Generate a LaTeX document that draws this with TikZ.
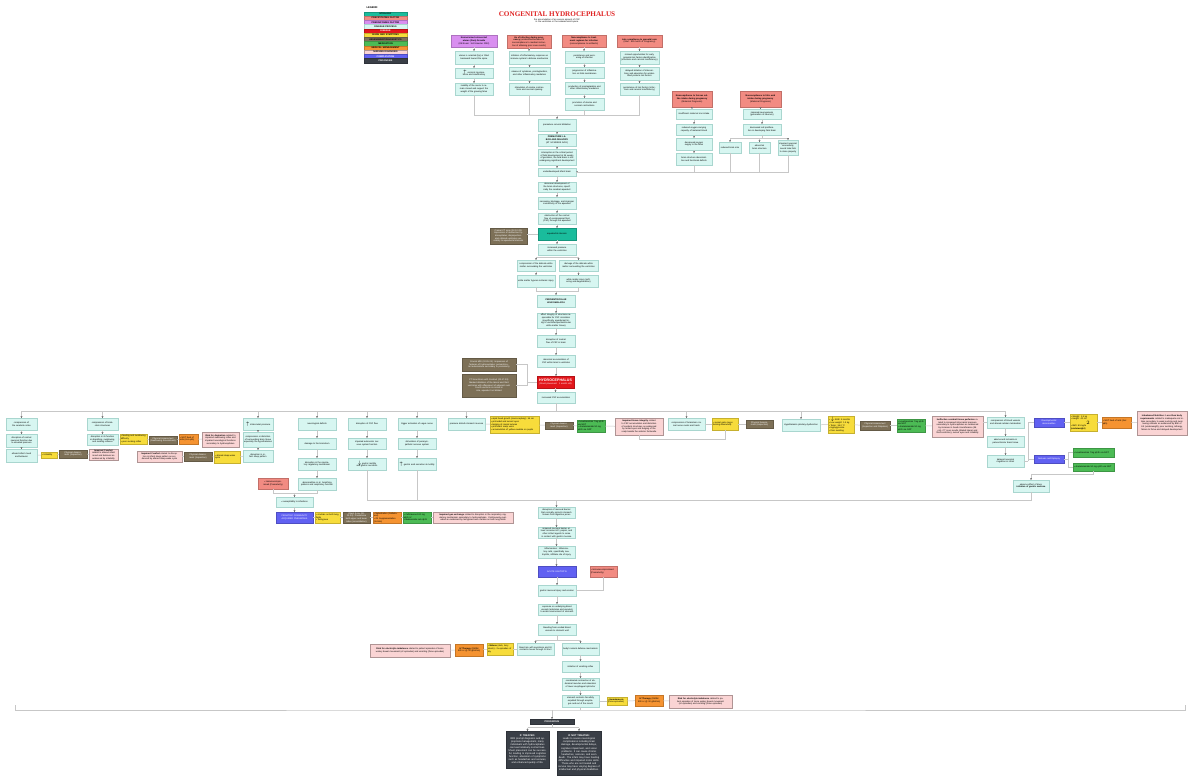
\documentclass[tikz,border=0pt]{standalone}
\usepackage{fontspec}
\setmainfont{Liberation Sans}
\newfontfamily\titlefont{Liberation Serif}
\usetikzlibrary{arrows.meta}
\definecolor{cEtio}{HTML}{1ABC9C}
\definecolor{cPrec}{HTML}{F28B82}
\definecolor{cPred}{HTML}{D98FF0}
\definecolor{cProc}{HTML}{D7F6F1}
\definecolor{cProcD}{HTML}{A9D6CF}
\definecolor{cDis}{HTML}{E3161B}
\definecolor{cSign}{HTML}{F7DC3B}
\definecolor{cAsmt}{HTML}{7D7057}
\definecolor{cMed}{HTML}{4CBB55}
\definecolor{cMgmt}{HTML}{F59331}
\definecolor{cNurs}{HTML}{FAD4D4}
\definecolor{cComp}{HTML}{6161F2}
\definecolor{cProg}{HTML}{3A3F47}
\definecolor{cTitle}{HTML}{E02424}
\newcommand\mkbox[7]{%
  \pgfmathsetmacro\bxw{#4-#2}%
  \pgfmathsetmacro\bxh{#5-#3}%
  \pgfmathsetmacro\bxx{(#2+#4)/2}%
  \pgfmathsetmacro\bxy{(#3+#5)/2}%
  \pgfmathsetmacro\bxt{max(#4-#2-2,4)}%
  \node[#6, minimum width=\bxw pt, minimum height=\bxh pt, text width=\bxt pt] (#1) at (\bxx,\bxy) {#7};}
\begin{document}
\begin{tikzpicture}[x=1pt,y=-1pt,
  bb/.style={line width=0.35pt, inner xsep=0.8pt, inner ysep=0.3pt, align=center, font=\fontsize{2.2}{2.65}\selectfont},
  sProc/.style={bb, fill=cProc, draw=cProcD},
  sEtio/.style={bb, fill=cEtio, draw=cEtio!80!black},
  sPrec/.style={bb, fill=cPrec, draw=cPrec!80!black},
  sPred/.style={bb, fill=cPred, draw=cPred!80!black},
  sDis/.style={bb, fill=cDis, draw=cDis!80!black, text=white},
  sSign/.style={bb, fill=cSign, draw=cSign!80!black, align=left},
  sAsmt/.style={bb, fill=cAsmt, draw=cAsmt!80!black, text=white},
  sMed/.style={bb, fill=cMed, draw=cMed!80!black, align=left},
  sMgmt/.style={bb, fill=cMgmt, draw=cMgmt!80!black, align=left},
  sNurs/.style={bb, fill=cNurs, draw=cNurs!70!black},
  sComp/.style={bb, fill=cComp, draw=cComp!80!black, text=white},
  sProg/.style={bb, fill=cProg, draw=cProg!80!black, text=white},
  lgf/.style={font=\fontsize{2.3}{2.6}\selectfont\bfseries, inner ysep=0pt},
  conn/.style={draw=black!22, line width=0.5pt},
  arr/.style={conn, -{Stealth[length=1.6pt,width=1.8pt,color=black!70]}}]
\fill[white] (0,0) rectangle (1200,782);
\useasboundingbox (0,0) rectangle (1200,782);

% ---------- legend ----------
\node[font=\fontsize{2.6}{3}\selectfont\bfseries, anchor=west] (legt) at (363,8) {LEGEND:};
\mkbox{lg1}{364}{11.7}{407}{15.95}{sEtio,lgf}{ETIOLOGY}
\mkbox{lg2}{364}{15.95}{407}{20.2}{sPrec,lgf}{PRECIPITATING FACTOR}
\mkbox{lg3}{364}{20.2}{407}{24.45}{sPred,lgf}{PREDISPOSING FACTOR}
\mkbox{lg4}{364}{24.45}{407}{28.7}{sProc,lgf}{DISEASE PROCESS}
\mkbox{lg5}{364}{28.7}{407}{32.95}{sDis,lgf}{DISEASE}
\mkbox{lg6}{364}{32.95}{407}{37.2}{sSign,lgf,align=center}{SIGNS AND SYMPTOMS}
\mkbox{lg7}{364}{37.2}{407}{41.45}{sAsmt,lgf,text=black}{ASSESSMENT/DIAGNOSTICS}
\mkbox{lg8}{364}{41.45}{407}{45.7}{sMed,lgf,align=center}{MEDICATION}
\mkbox{lg9}{364}{45.7}{407}{49.95}{sMgmt,lgf,align=center}{MEDICAL MANAGEMENT}
\mkbox{lg10}{364}{49.95}{407}{54.2}{sNurs,lgf}{NURSING DIAGNOSIS}
\mkbox{lg11}{364}{54.2}{407}{58.45}{sComp,lgf}{COMPLICATION}
\mkbox{lg12}{364}{58.45}{407}{62.7}{sProg,lgf}{PROGNOSIS}

% ---------- title ----------
\node[font=\titlefont\bfseries\fontsize{7.2}{8}\selectfont, text=cTitle] (title) at (557,14.5) {CONGENITAL HYDROCEPHALUS};
\node[font=\fontsize{2.2}{2.7}\selectfont, align=center, text width=62pt] (sub) at (557,21) {the accumulation of an excess amount of CSF in the ventricles or the subarachnoid space};

% ---------- top factors ----------
\mkbox{p1}{451}{35}{497}{47}{sPred}{\textbf{Normal-sized retroverted uterus (Fam) Gravida}\\(OB Exam: 3rd trimester 2022)}
\mkbox{s2}{507}{35}{551}{48}{sPrec}{\textbf{Hx of infection during pregnancy} (unidentified because of noncompliance to medical instruction of attaining prior case results)}
\mkbox{s3}{562}{35}{606}{47}{sPrec}{\textbf{Noncompliance to treatment regimen for infection}\\(noncompliance to antibiotic)}
\mkbox{s4}{617}{35}{662}{47}{sPrec}{\textbf{Late compliance to prenatal care} (Start: 3rd month of Pregnancy)}

\mkbox{a1}{455}{51}{493}{64}{sProc}{uterus is oriented (tip) or tilted backward toward the spine}
\mkbox{a2}{455}{68}{493}{78}{sProc}{$\uparrow$ cervical incompetence and insufficiency}
\mkbox{a3}{455}{83}{493}{95}{sProc}{inability of the cervix to remain closed and support the weight of the growing fetus}
\mkbox{b1}{509}{51}{550}{64}{sProc}{initiation of inflammatory response as immune system's defense mechanism}
\mkbox{b2}{509}{67}{550}{80}{sProc}{release of cytokines, prostaglandins, and other inflammatory mediators}
\mkbox{b3}{509}{83}{550}{95}{sProc}{stimulation of uterine contractions and cervical ripening}
\mkbox{c1}{565}{51}{604}{63}{sProc}{persistence and worsening of infection}
\mkbox{c2}{565}{67}{604}{78}{sProc}{progression of inflammation on fetal membranes}
\mkbox{c3}{565}{82}{604}{94}{sProc}{production of prostaglandins and other inflammatory mediators}
\mkbox{c4}{565}{98}{604}{110}{sProc}{promotion of uterine and cervical contractions}
\mkbox{d1}{620}{51}{659}{64}{sProc}{missed opportunities for early prenatal risk factors identification (infections and cervical insufficiency)}
\mkbox{d2}{620}{67}{659}{80}{sProc}{delayed initiation of interventions and education for unidentified preterm risk factors}
\mkbox{d3}{620}{83}{659}{95}{sProc}{persistence of risk factors (infections and cervical insufficiency)}

% ---------- right top cluster ----------
\mkbox{r1}{672}{91}{712}{107}{sPrec}{\textbf{Noncompliance to ferrous sulfate intake during pregnancy}\\(Maternal Prognosis)}
\mkbox{r2}{740}{91}{781}{107}{sPrec}{\textbf{Noncompliance to folic acid intake during pregnancy}\\(Maternal Prognosis)}
\mkbox{e1}{676}{109}{712}{119}{sProc}{insufficient maternal iron intake}
\mkbox{e2}{676}{124}{712}{135}{sProc}{reduced oxygen-carrying capacity of maternal blood}
\mkbox{e3}{676}{138}{712}{150}{sProc}{decreased oxygen supply to the fetus}
\mkbox{e4}{676}{153}{712}{165}{sProc}{brain structure abnormalities and functional deficits}
\mkbox{f1}{743}{109}{781}{119}{sProc}{impaired neurogenesis (generation of neurons)}
\mkbox{f2}{743}{124}{781}{135}{sProc}{decreased cell proliferation in developing fetal brain}
\mkbox{g1}{719}{142}{741}{153}{sProc}{reduced brain size}
\mkbox{g2}{749}{142}{770}{153}{sProc}{abnormal brain structure}
\mkbox{g3}{778}{140}{798}{155}{sProc}{impaired neuronal connectivity, neural tube fails to close properly}

% ---------- central column ----------
\mkbox{m1}{538}{119}{576}{131}{sProc}{premature cervical dilatation}
\mkbox{m2}{538}{134}{576}{146}{sProc}{\textbf{PREMATURE LABOR AND DELIVERY}\\(AT 34 WEEKS AOG)}
\mkbox{m3}{538}{149}{576}{165}{sProc}{interruption in the critical period of fetal development at 34 weeks of gestation, the fetal brain is still undergoing significant development}
\mkbox{m4}{538}{168}{576}{176}{sProc}{underdeveloped infant brain}
\mkbox{m5}{538}{182}{576}{192}{sProc}{abnormal development of the brain structures, specifically the cerebral aqueduct}
\mkbox{m6}{538}{197}{576}{209}{sProc}{narrowing, blockage, and improper connectivity of the aqueduct}
\mkbox{m7}{538}{213}{576}{224}{sProc}{obstruction of the normal flow of cerebrospinal fluid (CSF) through the aqueduct}
\mkbox{m8}{538}{228}{576}{240}{sEtio}{aqueductal stenosis}
\mkbox{ct1}{490}{228}{527}{244}{sAsmt}{Cranial CT scan (02-10-23): Impression of obstructive hydrocephalus; disproportionately dilated ventricles secondary to aqueductal stenosis}
\mkbox{m9}{538}{244}{576}{255}{sProc}{increased pressure within the ventricles}
\mkbox{m10l}{517}{260}{555}{271}{sProc}{compression of the delicate white matter surrounding the ventricles}
\mkbox{m10r}{559}{260}{598}{271}{sProc}{damage of the delicate white matter surrounding the ventricles}
\mkbox{m11l}{517}{275}{555}{287}{sProc}{white matter hypoxic-ischemic injury}
\mkbox{m11r}{559}{275}{598}{287}{sProc}{white matter injury (softening and degeneration)}
\mkbox{m12}{537}{295}{575}{307}{sProc}{\textbf{PERIVENTRICULAR LEUKOMALACIA}}
\mkbox{m13}{537}{313}{575}{328}{sProc}{affect integrity of structures responsible for CSF circulation (specifically, ependymal lining of ventricles/periventricular white matter tissue)}
\mkbox{m14}{537}{335}{575}{347}{sProc}{disruption of normal flow of CSF in brain}
\mkbox{m15}{537}{355}{575}{367}{sProc}{abnormal accumulation of CSF within brain's ventricles}
\mkbox{hc}{537}{376}{574}{388}{sDis}{{\fontsize{3.6}{4.2}\selectfont\bfseries HYDROCEPHALUS}\\(Shunt placement ~ 1 month old)}
\mkbox{ct2}{462}{358}{516}{371}{sAsmt}{Cranial MRI (02-05-23): Impression of features of hydrocephalus; periventricular leukomalacia secondary to prematurity}
\mkbox{ct3}{462}{374}{516}{397}{sAsmt}{CT Scan Brain with Contrast (02-17-23):\\ Marked dilatation of the lateral and third ventricles with effacement of adjacent sulci\\ Fourth ventricle is normal in size, aqueduct not dilated}
\mkbox{m16}{537}{392}{575}{403}{sProc}{increased CSF accumulation}

% ---------- wide row ----------
\mkbox{n1a}{6}{418}{37}{430}{sProc}{compression of the cerebral cortex}
\mkbox{n1b}{6}{434}{37}{447}{sProc}{disruption of normal neuronal function due to elevated pressure}
\mkbox{n1c}{6}{449}{37}{462}{sProc}{altered infant mood and behavior}
\mkbox{n1y}{41}{452}{57}{458}{sSign}{• Irritability}
\mkbox{n1s}{59}{450}{87}{458}{sAsmt}{Physical Assessment (Inspection)}
\mkbox{n1n}{89}{449}{118}{460}{sNurs}{\textbf{Impaired Comfort} related to altered infant mood and behavior as evidenced by irritability}
\mkbox{n2a}{87}{418}{118}{430}{sProc}{compression of brainstem structures}
\mkbox{n2b}{87}{434}{118}{445}{sProc}{disruption in its function on breathing, swallowing, and sucking reflexes}
\mkbox{n2y}{120}{434}{147}{444}{sSign}{• feeding and swallowing difficulty\\• poor sucking reflex}
\mkbox{n2s}{149}{436}{177}{444}{sAsmt}{Physical Assessment (Swallowing Assessment)}
\mkbox{n2o}{179}{434}{198}{444}{sMgmt}{• NGT feed of milk (2oz q4h)}
\mkbox{n2n}{202}{432}{239}{447}{sNurs}{\textbf{Risk for Aspiration} related to impaired swallowing reflex and impaired neurological functions secondary to hydrocephalus}
\mkbox{n3n}{137}{451}{182}{462}{sNurs}{\textbf{Impaired Comfort} related to disruption in infant sleep pattern as evidenced by altered sleep-wake cycle}
\mkbox{n3s}{184}{452}{212}{461}{sAsmt}{Physical Assessment (Inspection)}
\mkbox{n3y}{214}{451}{240}{463}{sSign}{• altered sleep-wake cycle}
\mkbox{n3a}{243}{418}{273}{430}{sProc}{$\uparrow$ intracranial pressure}
\mkbox{n3b}{243}{432}{273}{447}{sProc}{compression or distortion of surrounding brain tissue especially the hypothalamus}
\mkbox{n3c}{243}{450}{273}{462}{sProc}{disruption in infant sleep pattern}
\mkbox{imm}{258}{478}{288}{489}{sPrec}{• immunocompromised (Prematurity)}
\mkbox{n4a}{298}{418}{336}{430}{sProc}{neurological deficits}
\mkbox{n4b}{298}{438}{336}{449}{sProc}{damage to the brainstem}
\mkbox{n4c}{298}{458}{336}{470}{sProc}{disruption in the respiratory regulatory mechanism}
\mkbox{n4d}{298}{478}{336}{490}{sProc}{abnormalities in pt. breathing patterns and respiratory function}
\mkbox{sus}{276}{497}{313}{507}{sProc}{• susceptibility to infections}
\mkbox{pn}{276}{512}{313}{523}{sComp}{PEDIATRIC COMMUNITY ACQUIRED PNEUMONIA}
\mkbox{pny}{315}{512}{340}{523}{sSign}{• crackles on both lung fields\\• Tachypnea}
\mkbox{pns}{343}{512}{370}{523}{sAsmt}{Chest X-ray (02-22-23): Pneumonia both upper and lower lobes (consolidation)}
\mkbox{pno}{373}{512}{401}{523}{sMgmt}{• Nebulization (Salbutamol)\\• O2 Supplementation (1L/min)}
\mkbox{png}{403}{512}{431}{523}{sMed}{• Ceftriaxone 100 mg q12h IV\\• Budesonide neb q12h}
\mkbox{pnn}{433}{512}{513}{523}{sNurs}{\textbf{Impaired gas exchange} related to disruption in the respiratory regulatory mechanism secondary to hydrocephalus. Continuously evaluated as evidenced by tachypnea and crackles on both lung fields}
\mkbox{n5a}{348}{418}{386}{430}{sProc}{disruption of CSF flow}
\mkbox{n5b}{348}{438}{386}{449}{sProc}{impaired autonomic nervous system function}
\mkbox{n5c}{348}{458}{386}{470}{sProc}{$\downarrow$ gastric motility and gastric secretion}
\mkbox{n6a}{398}{418}{436}{430}{sProc}{trigger activation of vagus nerve}
\mkbox{n6b}{398}{438}{436}{449}{sProc}{stimulation of parasympathetic nervous system}
\mkbox{n6c}{398}{458}{436}{470}{sProc}{$\uparrow$ gastric acid secretion \& motility}
\mkbox{n7a}{448}{418}{485}{430}{sProc}{pressure disturb stomach mucosa}
\mkbox{n7y}{490}{416}{539}{433}{sSign}{• rapid head growth (macrocephaly): 56 cm\\• protruded and sunset eyes\\• bulging of cranial sutures\\• prominent scalp veins\\• accumulation of yellow exudate on pupils}
\mkbox{n7s}{545}{422}{573}{429}{sAsmt}{Physical Assessment (Inspection)}
\mkbox{n7g}{577}{420}{605}{432}{sMed}{• Levetiracetam 7mg q12h via NGT\\• Acetazolamide 50 mg q12h via NGT}
\mkbox{n7n}{615}{418}{663}{435}{sNurs}{\textbf{Impaired tissue integrity} related to CSF accumulation and distortion of cerebral structures as evidenced by tented eyes and bulging of the scalp beside the anterior fontanelle}
\mkbox{n8a}{668}{418}{705}{430}{sProc}{compression of brainstem cranial nerve nuclei and tracts}
\mkbox{n8y}{712}{418}{738}{430}{sSign}{• sunset gaze (eyes looking downward)}
\mkbox{n8s}{746}{420}{773}{428}{sAsmt}{Physical Assessment (Inspection)}
\mkbox{n9a}{782}{419}{820}{431}{sProc}{Hypothalamic-pituitary dysfunction}
\mkbox{n9y}{828}{416}{854}{433}{sSign}{• $\downarrow$ AGE: 3 months\\• Low weight: 1.5 kg\\• Temp: 36.2 °C\\• Hypoglycemia\\• Poor suckling}
\mkbox{n9s}{860}{421}{890}{430}{sAsmt}{Physical Assessment (Inspection and Palpation)}
\mkbox{n9g}{897}{419}{925}{432}{sMed}{• Levetiracetam 7mg q12h via NGT\\• Acetazolamide 50 mg q12h via NGT}
\mkbox{n9n}{932}{416}{983}{437}{sNurs}{\textbf{Ineffective cerebral tissue perfusion} related to increased intracranial pressure secondary to hydrocephalus as evidenced by increase in head circumference (56 cm), CT scan results (dilated lateral and third ventricles), sunset eyes and irritability}
\mkbox{n10a}{987}{417}{1024}{428}{sProc}{compression of blood vessels and altered cellular metabolism}
\mkbox{n10b}{987}{436}{1024}{447}{sProc}{edema and ischemia in periventricular brain tissue}
\mkbox{n10c}{987}{455}{1024}{467}{sProc}{delayed neuronal migration in infant}
\mkbox{dev}{1034}{418}{1064}{427}{sComp}{Developmental abnormalities}
\mkbox{dvy}{1070}{414}{1097}{431}{sSign}{• Weight: 1.5 kg\\• Height: 42 cm\\• BMI: 8.5 kg/m$^2$ (\textbf{underweight})}
\mkbox{dvo}{1102}{417}{1131}{428}{sMgmt}{• NGT feed of milk (2oz q4h)}
\mkbox{dvn}{1137}{411}{1187}{435}{sNurs}{\textbf{Imbalanced Nutrition: Less than body requirements} related to inadequate oral intake secondary to weak sucking and swallowing reflexes as evidenced by BMI of 8.5 (underweight), poor suckling, lethargy, failure to thrive and delayed development}
\mkbox{sz}{1034}{455}{1064}{463}{sComp}{Seizures and Epilepsy}
\mkbox{szg1}{1073}{448}{1114}{457}{sMed}{• Levetiracetam 7mg q12h via NGT}
\mkbox{szg2}{1073}{463}{1114}{471}{sMed}{• Acetazolamide 50 mg q12h via NGT}
\mkbox{adv}{1013}{480}{1049}{492}{sProc}{adverse effect of drug:\\\textbf{irritation of gastric mucosa}}

% ---------- lower column ----------
\mkbox{q1}{538}{507}{575}{518}{sProc}{disruption of mucosal barrier that normally protects stomach tissues from digestive juices}
\mkbox{q2}{538}{527}{575}{538}{sProc}{impaired mucosal barrier allows corrosive HCl, pepsin, and other irritant agents to come in contact with gastric mucosa}
\mkbox{q3}{538}{546}{575}{558}{sProc}{Inflammation: Inflammatory cells, specifically neutrophils, infiltrate site of injury}
\mkbox{ag}{538}{566}{576}{577}{sComp}{ACUTE GASTRITIS}
\mkbox{ims}{590}{566}{617}{577}{sPrec,align=left}{• Immunocompromised (Prematurity)}
\mkbox{q4}{538}{585}{576}{596}{sProc}{gastric mucosal injury and erosion}
\mkbox{q5}{538}{604}{576}{615}{sProc}{exposure on underlying blood vessels (arterioles and venules) to acidic environment of stomach}
\mkbox{q6}{538}{624}{576}{635}{sProc}{bleeding from eroded blood vessels to stomach wall}
\mkbox{q7l}{517}{643}{554}{655}{sProc}{blood mix with secretions and GI contents moves through GI tract}
\mkbox{q7y}{487}{643}{513}{655}{sSign}{• \textbf{Melena} (dark, tarry stools) - 2x episodes of dry}
\mkbox{q7o}{455}{644}{483}{656}{sMgmt,align=center}{\textbf{IV Therapy} (D5NM 500 cc @ 30 gtts/min)}
\mkbox{q7n}{370}{644}{450}{657}{sNurs}{\textbf{Risk for electrolyte imbalance} related to patient episodes of loose watery bowel movement (x2 episodes) and vomiting (three episodes)}
\mkbox{q7r}{562}{643}{599}{655}{sProc}{body's natural defense mechanism}
\mkbox{q8}{562}{661}{599}{672}{sProc}{initiation of vomiting reflex}
\mkbox{q9}{562}{678}{599}{690}{sProc}{coordinated contraction of abdominal muscles and relaxation of lower esophageal sphincter}
\mkbox{q10}{562}{695}{599}{707}{sProc}{stomach contents forcefully expelled through esophagus and out of the mouth}
\mkbox{q10y}{607}{697}{627}{705}{sSign}{• \textbf{Hematemesis} (three episodes)}
\mkbox{q10o}{635}{695}{663}{706}{sMgmt,align=center}{\textbf{IV Therapy} (D5NM 500 cc @ 30 gtts/min)}
\mkbox{q10n}{669}{695}{732}{708}{sNurs}{\textbf{Risk for electrolyte imbalance} related to patient episodes of loose watery bowel movement (x2 episodes) and vomiting (three episodes)}

% ---------- prognosis ----------
\mkbox{pg}{530}{719}{574}{724}{sProg,font=\fontsize{2.4}{2.8}\selectfont\bfseries}{PROGNOSIS}
\mkbox{pt}{506}{731}{549}{768}{sProg,font=\fontsize{2.5}{3.05}\selectfont}{\textbf{IF TREATED:}\\ With prompt diagnosis and appropriate management, many individuals with hydrocephalus can lead relatively normal lives. Shunt placement can be successful, leading to improved cognitive function, alleviation of symptoms such as headaches and seizures, and enhanced quality of life.}
\mkbox{pu}{557}{731}{601}{775}{sProg,font=\fontsize{2.5}{3.05}\selectfont}{\textbf{IF NOT TREATED:}\\ Leads to severe neurological complications including brain damage, developmental delays, cognitive impairment, and vision problems. It can cause chronic headaches, seizures, and even death. The infant may have feeding difficulties and impaired motor skills. Those who are not treated and survive may have varying degrees of intellectual and physical disabilities.}

% ---------- connectors ----------
\foreach \u/\v in {p1/a1,a1/a2,a2/a3,s2/b1,b1/b2,b2/b3,s3/c1,c1/c2,c2/c3,c3/c4,s4/d1,d1/d2,d2/d3,
  r1/e1,e1/e2,e2/e3,e3/e4,r2/f1,f1/f2,
  m1/m2,m2/m3,m3/m4,m4/m5,m5/m6,m6/m7,m7/m8,m8/m9,m10l/m11l,m10r/m11r,
  m12/m13,m13/m14,m14/m15,m15/hc,hc/m16,
  n1a/n1b,n1b/n1c,n2a/n2b,n3a/n3b,n3b/n3c,n4a/n4b,n4b/n4c,n4c/n4d,sus/pn,
  n5a/n5b,n5b/n5c,n6a/n6b,n6b/n6c,n10a/n10b,n10b/n10c,
  q1/q2,q2/q3,q3/ag,ag/q4,q4/q5,q5/q6,q7r/q8,q8/q9,q9/q10}
  \draw[arr] (\u.south) -- (\u.south |- \v.north);
\foreach \u/\v in {n1c/n1y,n1y/n1s,n1s/n1n,n2b/n2y,n2y/n2s,n2s/n2o,n2o/n2n,n3c/n3y,n3y/n3s,n3s/n3n,
  pn/pny,pny/pns,pns/pno,pno/png,png/pnn,n7a/n7y,n7y/n7s,n7s/n7g,n7g/n7n,n8a/n8y,n8y/n8s,
  n9a/n9y,n9y/n9s,n9s/n9g,n9g/n9n,dev/dvy,dvy/dvo,dvo/dvn,q7l/q7y,q7y/q7o,q7o/q7n,
  q10/q10y,q10y/q10o,q10o/q10n}
  \draw[conn] (\u) -- (\v);

% top merge
\coordinate (j1) at (557,115);
\draw[conn] (a3.south) |- (j1);
\draw[conn] (d3.south) |- (j1);
\draw[conn] (b3.south) -- (b3.south |- j1);
\draw[conn] (c4.south) -- (c4.south |- j1);
\draw[arr] (j1) -- (m1.north);
% right cluster
\coordinate (fj) at (762,138);
\draw[conn] (f2.south) -- (fj);
\draw[conn] (g1.north |- fj) -- (g3.north |- fj);
\foreach \g in {g1,g2,g3} \draw[arr] (\g.north |- fj) -- (\g.north);
\draw[arr] (e4.south) |- (m4.east);
\foreach \g in {g1,g2,g3} \draw[conn] (\g.south) |- (m4.east);
% assessments on stenosis and hydrocephalus
\draw[conn] (ct1.east |- m8.west) -- (m8.west);
\coordinate (hj) at (527,382);
\draw[conn] (ct2.east) -| (hj);
\draw[conn] (ct3.east) -| (hj);
\draw[conn] (hj) -- (hc.west);
% white matter split/merge
\coordinate (wj) at (557,257);
\draw[conn] (m10l.north |- wj) -- (m10r.north |- wj);
\draw[arr] (m10l.north |- wj) -- (m10l.north);
\draw[arr] (m10r.north |- wj) -- (m10r.north);
\coordinate (wk) at (556,291);
\draw[conn] (m11l.south) |- (wk);
\draw[conn] (m11r.south) |- (wk);
\draw[arr] (wk) -- (m12.north);
% main distribution line
\coordinate (mj) at (556,411);
\draw[conn] (m16.south) -- (mj);
\draw[conn] (n1a.north |- mj) -- (n10a.north |- mj);
\foreach \n in {n1a,n2a,n3a,n4a,n5a,n6a,n7a,n8a,n9a,n10a}
  \draw[arr] (\n.north |- mj) -- (\n.north);
% pneumonia branch
\coordinate (sj) at (294.5,493);
\draw[conn] (imm.south) |- (sj);
\draw[conn] (n4d.south) |- (sj);
\draw[arr] (sj) -- (sus.north);
% tissue integrity to sunset gaze
\draw[conn] (n7n.south) -- ++(0,4) -| (n8y.south);
\draw[conn] (n9n.east |- n10a.west) -- (n10a.west);
% developmental / seizures
\coordinate (dj) at (1028,461);
\draw[conn] (n10c.east) -- (dj);
\draw[conn] (dj) |- (dev.west);
\draw[conn] (dj) |- (sz.west);
\coordinate (zj) at (1068,459);
\draw[conn] (sz.east) -- (zj);
\draw[conn] (zj) |- (szg1.west);
\draw[conn] (zj) |- (szg2.west);
\draw[arr] (szg2.south) -- ++(0,3) -| (adv.north);
% gastric merge line
\coordinate (gj) at (556.5,500);
\draw[conn] (n5c.south) |- (gj);
\draw[conn] (n6c.south) -- (n6c.south |- gj);
\draw[conn] (adv.south) |- (gj);
\draw[arr] (gj) -- (q1.north);
\draw[conn] (ims.south) |- (q4.east);
% bleeding split
\coordinate (bj) at (557,640);
\draw[conn] (q7l.north |- bj) -- (q7r.north |- bj);
\draw[conn] (q6.south) -- (bj);
\draw[arr] (q7l.north |- bj) -- (q7l.north);
\draw[arr] (q7r.north |- bj) -- (q7r.north);
% prognosis line
\coordinate (pj) at (552,710);
\coordinate (bl) at (15,705);
\coordinate (br) at (1185,705);
\draw[conn] (bl) |- (pj) -| (br);
\draw[conn] (q10.south) -- (q10.south |- pj);
\draw[arr] (pj) -- (pg.north);
\coordinate (kj) at (552,727.5);
\draw[conn] (pg.south) -- (kj);
\draw[conn] (pt.north |- kj) -- (pu.north |- kj);
\draw[arr] (pt.north |- kj) -- (pt.north);
\draw[arr] (pu.north |- kj) -- (pu.north);
\end{tikzpicture}
\end{document}
